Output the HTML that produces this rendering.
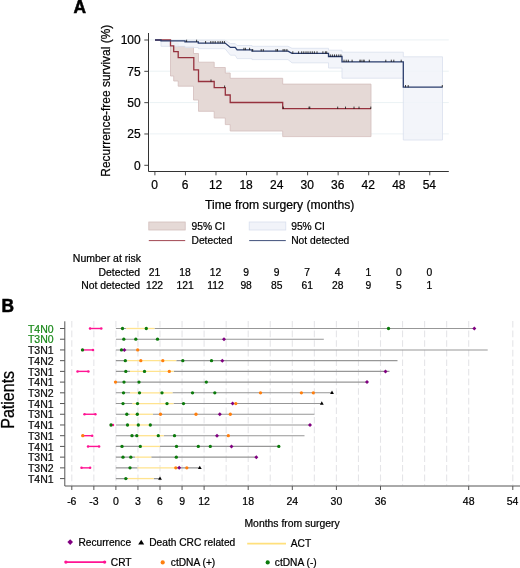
<!DOCTYPE html>
<html lang="en"><head><meta charset="utf-8"><title>Figure</title>
<style>html,body{margin:0;padding:0;background:#fff}body{width:520px;height:568px;overflow:hidden}svg{display:block}text{font-family:"Liberation Sans", Arial, Helvetica, sans-serif;stroke:#000;stroke-width:.22px}text.g{stroke:#1c8a1c}text.b{stroke-width:.55px}</style>
</head><body>
<svg width="520" height="568" viewBox="0 0 520 568" fill="#000">
<rect width="520" height="568" fill="#fff"/>
<g id="panelA">
<text class="b" transform="translate(73.6,12.8) scale(0.95,1)" font-size="18.3" font-weight="700" fill="#000">A</text>
<line x1="149.6" x2="448.8" y1="133.88" y2="133.88" stroke="#e6eff1" stroke-width="0.8"/>
<line x1="149.6" x2="448.8" y1="102.55" y2="102.55" stroke="#e6eff1" stroke-width="0.8"/>
<line x1="149.6" x2="448.8" y1="71.23" y2="71.23" stroke="#e6eff1" stroke-width="0.8"/>
<line x1="149.6" x2="448.8" y1="39.90" y2="39.90" stroke="#e6eff1" stroke-width="0.8"/>
<polygon points="170.5,40.0 170.5,41.0 173.7,41.0 173.7,43.2 178.2,43.2 178.2,46.5 193.5,46.5 193.5,53.5 198.5,53.5 198.5,62.2 214.2,62.2 214.2,67.5 225.3,67.5 225.3,73.0 230.2,73.0 230.2,78.3 282.7,78.3 282.7,84.1 371.0,84.1 371.0,136.6 282.7,136.6 282.7,131.0 230.2,131.0 230.2,124.6 225.3,124.6 225.3,118.0 214.2,118.0 214.2,111.3 198.5,111.3 198.5,100.0 193.5,100.0 193.5,86.2 178.2,86.2 178.2,81.0 173.7,81.0 173.7,76.0 170.5,76.0 170.5,40.0" fill="#e5d9d6" stroke="#d3bebc" stroke-width="0.8" stroke-linejoin="miter"/>
<polygon points="161.0,40.0 161.0,40.2 225.0,40.2 230.4,43.6 235.2,43.6 237.1,45.5 252.0,45.5 252.0,46.3 288.0,46.3 292.0,48.3 328.5,48.3 328.5,50.2 342.0,50.2 342.0,52.2 403.3,52.2 403.3,56.8 442.5,56.8 442.5,140.0 403.3,140.0 403.3,78.2 342.0,78.2 342.0,68.0 328.5,68.0 328.5,62.8 292.0,62.8 288.0,59.6 252.0,59.6 252.0,58.6 237.1,58.6 235.2,55.2 230.4,55.2 225.0,48.7 198.3,48.7 198.3,47.5 185.0,47.5 185.0,46.3 161.0,46.3 161.0,40.0" fill="#f1f3f9" fill-opacity="0.85" stroke="#d9dfee" stroke-width="0.8"/>
<polyline points="155.0,40.0 170.5,40.0 170.5,45.8 173.7,45.8 173.7,51.6 178.2,51.6 178.2,57.7 193.8,57.7 193.8,69.8 198.5,69.8 198.5,81.5 214.2,81.5 214.2,87.6 225.3,87.6 225.3,95.0 230.2,95.0 230.2,102.5 282.7,102.5 282.7,108.7 371.0,108.7" fill="none" stroke="#96323e" stroke-width="1.3" stroke-linejoin="miter"/>
<polyline points="155.0,40.0 161.0,40.0 161.0,40.8 185.0,40.8 185.0,41.8 198.3,41.8 198.3,43.1 225.1,43.1 230.4,47.4 235.2,47.4 237.1,49.9 252.0,49.9 252.0,51.1 288.0,51.1 292.0,53.4 328.5,53.4 328.5,56.5 342.0,56.5 342.0,61.8 403.3,61.8 403.3,87.1 442.5,87.1" fill="none" stroke="#2a3c6c" stroke-width="1.3" stroke-linejoin="miter"/>
<path d="M186.6,42.0v-2.3M196.6,42.0v-2.3M205.6,43.3v-2.3M210.8,43.3v-2.3M213.0,43.3v-2.3M215.2,43.3v-2.3M218.0,43.3v-2.3M220.2,43.3v-2.3M222.4,43.3v-2.3M224.4,43.3v-2.3M243.9,50.1v-2.3M245.4,50.1v-2.3M249.6,50.1v-2.3M252.7,51.3v-2.3M261.2,51.3v-2.3M263.3,51.3v-2.3M276.0,51.3v-2.3M277.5,51.3v-2.3M283.1,51.3v-2.3M284.8,51.3v-2.3M286.9,51.3v-2.3M292.8,53.6v-2.3M298.6,53.6v-2.3M301.7,53.6v-2.3M303.8,53.6v-2.3M306.0,53.6v-2.3M308.0,53.6v-2.3M310.2,53.6v-2.3M312.3,53.6v-2.3M314.4,53.6v-2.3M317.0,53.6v-2.3M322.9,53.6v-2.3M325.4,53.6v-2.3M326.7,53.6v-2.3M330.3,56.7v-2.3M332.4,56.7v-2.3M334.5,56.7v-2.3M336.6,56.7v-2.3M338.8,56.7v-2.3M340.9,56.7v-2.3M344.0,62.0v-2.3M346.2,62.0v-2.3M348.3,62.0v-2.3M352.1,62.0v-2.3M359.9,62.0v-2.3M363.1,62.0v-2.3M369.3,62.0v-2.3M361.0,62.0v-2.3M364.2,62.0v-2.3M385.8,62.0v-2.3M391.3,62.0v-2.3M393.8,62.0v-2.3M401.2,62.0v-2.3M405.5,87.3v-2.3M408.2,87.3v-2.3M442.3,87.3v-2.3M211.0,81.7v-2.3M224.6,87.8v-2.3M283.3,108.9v-2.3M309.0,108.9v-2.3M309.8,108.9v-2.3M337.7,108.9v-2.3M345.5,108.9v-2.3M354.0,108.9v-2.3M359.0,108.9v-2.3M370.8,108.9v-2.3" stroke="#111" stroke-width="0.8" fill="none"/>
<path d="M148.5,33V171.5H448.8" fill="none" stroke="#333" stroke-width="1"/>
<path d="M144.3,165.30H148.5M144.3,133.98H148.5M144.3,102.65H148.5M144.3,71.33H148.5M144.3,40.00H148.5M154.90,171.5V175.3M185.44,171.5V175.3M215.98,171.5V175.3M246.52,171.5V175.3M277.06,171.5V175.3M307.60,171.5V175.3M338.14,171.5V175.3M368.68,171.5V175.3M399.22,171.5V175.3M429.76,171.5V175.3" stroke="#333" stroke-width="0.9" fill="none"/>
<text x="140.7" y="169.60" font-size="12" text-anchor="end">0</text>
<text x="140.7" y="138.28" font-size="12" text-anchor="end">25</text>
<text x="140.7" y="106.95" font-size="12" text-anchor="end">50</text>
<text x="140.7" y="75.63" font-size="12" text-anchor="end">75</text>
<text x="140.7" y="44.30" font-size="12" text-anchor="end">100</text>
<text x="154.50" y="189.2" font-size="12" text-anchor="middle">0</text>
<text x="185.04" y="189.2" font-size="12" text-anchor="middle">6</text>
<text x="215.58" y="189.2" font-size="12" text-anchor="middle">12</text>
<text x="246.12" y="189.2" font-size="12" text-anchor="middle">18</text>
<text x="276.66" y="189.2" font-size="12" text-anchor="middle">24</text>
<text x="307.20" y="189.2" font-size="12" text-anchor="middle">30</text>
<text x="337.74" y="189.2" font-size="12" text-anchor="middle">36</text>
<text x="368.28" y="189.2" font-size="12" text-anchor="middle">42</text>
<text x="398.82" y="189.2" font-size="12" text-anchor="middle">48</text>
<text x="429.36" y="189.2" font-size="12" text-anchor="middle">54</text>
<text x="279.7" y="208.9" font-size="12.15" text-anchor="middle">Time from surgery (months)</text>
<text transform="translate(110.3,100.7) rotate(-90)" font-size="11.95" text-anchor="middle">Recurrence-free survival (%)</text>
<rect x="148.8" y="222" width="36.4" height="8" fill="#e5d9d6" stroke="#d3bebc" stroke-width="0.8"/>
<rect x="249.2" y="222" width="36.6" height="8" fill="#f1f3f9" stroke="#d9dfee" stroke-width="0.8"/>
<line x1="148.8" x2="185.2" y1="240.6" y2="240.6" stroke="#96323e" stroke-width="0.9"/>
<line x1="249.2" x2="285.8" y1="240.6" y2="240.6" stroke="#2a3c6c" stroke-width="0.9"/>
<text x="191.5" y="229.7" font-size="10.25">95% CI</text>
<text x="191.5" y="244.2" font-size="10.25">Detected</text>
<text x="291.2" y="229.7" font-size="10.25">95% CI</text>
<text x="291.2" y="244.2" font-size="10.25">Not detected</text>
<text x="72.8" y="261.6" font-size="10.5">Number at risk</text>
<text x="140.1" y="275.8" font-size="10.4" text-anchor="end">Detected</text>
<text x="140.1" y="289.2" font-size="10.4" text-anchor="end">Not detected</text>
<text x="154.50" y="275.8" font-size="10.3" text-anchor="middle">21</text>
<text x="154.50" y="289.2" font-size="10.3" text-anchor="middle">122</text>
<text x="185.04" y="275.8" font-size="10.3" text-anchor="middle">18</text>
<text x="185.04" y="289.2" font-size="10.3" text-anchor="middle">121</text>
<text x="215.58" y="275.8" font-size="10.3" text-anchor="middle">12</text>
<text x="215.58" y="289.2" font-size="10.3" text-anchor="middle">112</text>
<text x="246.12" y="275.8" font-size="10.3" text-anchor="middle">9</text>
<text x="246.12" y="289.2" font-size="10.3" text-anchor="middle">98</text>
<text x="276.66" y="275.8" font-size="10.3" text-anchor="middle">9</text>
<text x="276.66" y="289.2" font-size="10.3" text-anchor="middle">85</text>
<text x="307.20" y="275.8" font-size="10.3" text-anchor="middle">7</text>
<text x="307.20" y="289.2" font-size="10.3" text-anchor="middle">61</text>
<text x="337.74" y="275.8" font-size="10.3" text-anchor="middle">4</text>
<text x="337.74" y="289.2" font-size="10.3" text-anchor="middle">28</text>
<text x="368.28" y="275.8" font-size="10.3" text-anchor="middle">1</text>
<text x="368.28" y="289.2" font-size="10.3" text-anchor="middle">9</text>
<text x="398.82" y="275.8" font-size="10.3" text-anchor="middle">0</text>
<text x="398.82" y="289.2" font-size="10.3" text-anchor="middle">5</text>
<text x="429.36" y="275.8" font-size="10.3" text-anchor="middle">0</text>
<text x="429.36" y="289.2" font-size="10.3" text-anchor="middle">1</text>
</g>
<g id="panelB">
<text class="b" transform="translate(1.4,311.7) scale(0.95,1)" font-size="18.3" font-weight="700" fill="#000">B</text>
<path d="M71.80,321V485.5M93.85,321V485.5M115.90,321V485.5M137.95,321V485.5M160.00,321V485.5M182.05,321V485.5M204.10,321V485.5M226.15,321V485.5M248.20,321V485.5M270.25,321V485.5M292.30,321V485.5M314.35,321V485.5M336.40,321V485.5M358.45,321V485.5M380.50,321V485.5M402.55,321V485.5M424.60,321V485.5M446.65,321V485.5M468.70,321V485.5M512.80,321V485.5" stroke="#e5e5e8" stroke-width="1.1" stroke-dasharray="6.6 3" fill="none"/>
<text class="g" x="53.6" y="332.70" font-size="10.5" text-anchor="end" fill="#1c8a1c">T4N0</text>
<path d="M115.9,328.50H126.3M154.5,328.50H474.3" stroke="#979797" stroke-width="1.1" fill="none"/>
<line x1="126.3" x2="154.5" y1="328.50" y2="328.50" stroke="#ffe38e" stroke-width="1.3"/>
<line x1="90.0" x2="101.3" y1="328.50" y2="328.50" stroke="#ff1493" stroke-width="1.4"/>
<circle cx="90.0" cy="328.50" r="1.25" fill="#ff1493"/>
<circle cx="101.3" cy="328.50" r="1.25" fill="#ff1493"/>
<circle cx="122.5" cy="328.50" r="1.65" fill="#0b7a0b"/>
<circle cx="146.3" cy="328.50" r="1.65" fill="#0b7a0b"/>
<circle cx="388.5" cy="328.50" r="1.65" fill="#0b7a0b"/>
<path d="M474.3,326.50l2,2l-2,2l-2,-2z" fill="#800080"/>
<text class="g" x="53.6" y="343.42" font-size="10.5" text-anchor="end" fill="#1c8a1c">T3N0</text>
<line x1="115.9" x2="323.8" y1="339.22" y2="339.22" stroke="#979797" stroke-width="1.1"/>
<circle cx="123.8" cy="339.22" r="1.65" fill="#0b7a0b"/>
<circle cx="135.8" cy="339.22" r="1.65" fill="#0b7a0b"/>
<circle cx="157.5" cy="339.22" r="1.65" fill="#0b7a0b"/>
<path d="M224.0,337.22l2,2l-2,2l-2,-2z" fill="#800080"/>
<text x="53.6" y="354.14" font-size="10.5" text-anchor="end" fill="#111">T3N1</text>
<line x1="115.9" x2="487.7" y1="349.94" y2="349.94" stroke="#979797" stroke-width="1.1"/>
<line x1="82.5" x2="93.0" y1="349.94" y2="349.94" stroke="#ff1493" stroke-width="1.4"/>
<circle cx="82.5" cy="349.94" r="1.25" fill="#ff1493"/>
<circle cx="93.0" cy="349.94" r="1.25" fill="#ff1493"/>
<circle cx="82.5" cy="349.94" r="1.65" fill="#0b7a0b"/>
<circle cx="121.5" cy="349.94" r="1.65" fill="#0b7a0b"/>
<path d="M124.4,347.94l2,2l-2,2l-2,-2z" fill="#800080"/>
<circle cx="137.7" cy="349.94" r="1.65" fill="#ff7f0e"/>
<text x="53.6" y="364.86" font-size="10.5" text-anchor="end" fill="#111">T4N2</text>
<path d="M115.9,360.66H127.5M176.3,360.66H397.5" stroke="#979797" stroke-width="1.1" fill="none"/>
<line x1="127.5" x2="176.3" y1="360.66" y2="360.66" stroke="#ffe38e" stroke-width="1.3"/>
<circle cx="125.3" cy="360.66" r="1.65" fill="#0b7a0b"/>
<circle cx="140.8" cy="360.66" r="1.65" fill="#ff7f0e"/>
<circle cx="162.8" cy="360.66" r="1.65" fill="#ff7f0e"/>
<circle cx="182.8" cy="360.66" r="1.65" fill="#0b7a0b"/>
<circle cx="211.5" cy="360.66" r="1.65" fill="#0b7a0b"/>
<path d="M222.3,358.66l2,2l-2,2l-2,-2z" fill="#800080"/>
<text x="53.6" y="375.58" font-size="10.5" text-anchor="end" fill="#111">T3N1</text>
<path d="M115.9,371.38H130.0M173.8,371.38H389.5" stroke="#979797" stroke-width="1.1" fill="none"/>
<line x1="130.0" x2="173.8" y1="371.38" y2="371.38" stroke="#ffe38e" stroke-width="1.3"/>
<line x1="77.5" x2="88.4" y1="371.38" y2="371.38" stroke="#ff1493" stroke-width="1.4"/>
<circle cx="77.5" cy="371.38" r="1.25" fill="#ff1493"/>
<circle cx="88.4" cy="371.38" r="1.25" fill="#ff1493"/>
<circle cx="125.8" cy="371.38" r="1.65" fill="#0b7a0b"/>
<circle cx="144.5" cy="371.38" r="1.65" fill="#0b7a0b"/>
<circle cx="169.3" cy="371.38" r="1.65" fill="#ff7f0e"/>
<path d="M385.5,369.38l2,2l-2,2l-2,-2z" fill="#800080"/>
<text x="53.6" y="386.30" font-size="10.5" text-anchor="end" fill="#111">T4N1</text>
<line x1="115.9" x2="367.5" y1="382.10" y2="382.10" stroke="#979797" stroke-width="1.1"/>
<circle cx="115.5" cy="382.10" r="1.65" fill="#ff7f0e"/>
<circle cx="124.0" cy="382.10" r="1.65" fill="#0b7a0b"/>
<circle cx="139.0" cy="382.10" r="1.65" fill="#0b7a0b"/>
<circle cx="206.3" cy="382.10" r="1.65" fill="#0b7a0b"/>
<path d="M367.0,380.10l2,2l-2,2l-2,-2z" fill="#800080"/>
<text x="53.6" y="397.02" font-size="10.5" text-anchor="end" fill="#111">T3N2</text>
<path d="M115.9,392.82H130.0M172.5,392.82H332.0" stroke="#979797" stroke-width="1.1" fill="none"/>
<line x1="130.0" x2="172.5" y1="392.82" y2="392.82" stroke="#ffe38e" stroke-width="1.3"/>
<circle cx="123.5" cy="392.82" r="1.65" fill="#0b7a0b"/>
<circle cx="139.5" cy="392.82" r="1.65" fill="#0b7a0b"/>
<circle cx="162.0" cy="392.82" r="1.65" fill="#0b7a0b"/>
<circle cx="192.5" cy="392.82" r="1.65" fill="#0b7a0b"/>
<circle cx="214.8" cy="392.82" r="1.65" fill="#0b7a0b"/>
<circle cx="260.5" cy="392.82" r="1.65" fill="#ff7f0e"/>
<circle cx="301.4" cy="392.82" r="1.65" fill="#ff7f0e"/>
<circle cx="313.3" cy="392.82" r="1.65" fill="#ff7f0e"/>
<path d="M332.0,390.62l1.9,3.3h-3.8z" fill="#000"/>
<text x="53.6" y="407.74" font-size="10.5" text-anchor="end" fill="#111">T4N1</text>
<path d="M115.9,403.54H132.5M173.5,403.54H321.8" stroke="#979797" stroke-width="1.1" fill="none"/>
<line x1="132.5" x2="173.5" y1="403.54" y2="403.54" stroke="#ffe38e" stroke-width="1.3"/>
<circle cx="123.0" cy="403.54" r="1.65" fill="#0b7a0b"/>
<circle cx="137.5" cy="403.54" r="1.65" fill="#0b7a0b"/>
<circle cx="167.0" cy="403.54" r="1.65" fill="#0b7a0b"/>
<circle cx="183.5" cy="403.54" r="1.65" fill="#0b7a0b"/>
<path d="M232.6,401.54l2,2l-2,2l-2,-2z" fill="#800080"/>
<circle cx="235.8" cy="403.54" r="1.65" fill="#ff7f0e"/>
<path d="M321.8,401.34l1.9,3.3h-3.8z" fill="#000"/>
<text x="53.6" y="418.46" font-size="10.5" text-anchor="end" fill="#111">T3N1</text>
<path d="M115.9,414.26H130.0M153.0,414.26H314.5" stroke="#979797" stroke-width="1.1" fill="none"/>
<line x1="130.0" x2="153.0" y1="414.26" y2="414.26" stroke="#ffe38e" stroke-width="1.3"/>
<line x1="84.5" x2="95.4" y1="414.26" y2="414.26" stroke="#ff1493" stroke-width="1.4"/>
<circle cx="84.5" cy="414.26" r="1.25" fill="#ff1493"/>
<circle cx="95.4" cy="414.26" r="1.25" fill="#ff1493"/>
<circle cx="126.8" cy="414.26" r="1.65" fill="#0b7a0b"/>
<circle cx="137.3" cy="414.26" r="1.65" fill="#0b7a0b"/>
<circle cx="160.5" cy="414.26" r="1.65" fill="#ff7f0e"/>
<circle cx="196.0" cy="414.26" r="1.65" fill="#ff7f0e"/>
<path d="M219.8,412.26l2,2l-2,2l-2,-2z" fill="#800080"/>
<circle cx="230.3" cy="414.26" r="1.65" fill="#ff7f0e"/>
<text x="53.6" y="429.18" font-size="10.5" text-anchor="end" fill="#111">T4N1</text>
<path d="M115.9,424.98H128.8M150.0,424.98H310.0" stroke="#979797" stroke-width="1.1" fill="none"/>
<line x1="128.8" x2="150.0" y1="424.98" y2="424.98" stroke="#ffe38e" stroke-width="1.3"/>
<line x1="111.0" x2="113.0" y1="424.98" y2="424.98" stroke="#ff1493" stroke-width="1.4"/>
<circle cx="111.0" cy="424.98" r="1.25" fill="#ff1493"/>
<circle cx="113.0" cy="424.98" r="1.25" fill="#ff1493"/>
<circle cx="111.0" cy="424.98" r="1.65" fill="#0b7a0b"/>
<circle cx="127.5" cy="424.98" r="1.65" fill="#0b7a0b"/>
<circle cx="138.3" cy="424.98" r="1.65" fill="#0b7a0b"/>
<circle cx="150.3" cy="424.98" r="1.65" fill="#0b7a0b"/>
<path d="M310.0,422.98l2,2l-2,2l-2,-2z" fill="#800080"/>
<text x="53.6" y="439.90" font-size="10.5" text-anchor="end" fill="#111">T3N1</text>
<path d="M115.9,435.70H137.5M163.8,435.70H304.5" stroke="#979797" stroke-width="1.1" fill="none"/>
<line x1="137.5" x2="163.8" y1="435.70" y2="435.70" stroke="#ffe38e" stroke-width="1.3"/>
<line x1="82.8" x2="92.2" y1="435.70" y2="435.70" stroke="#ff1493" stroke-width="1.4"/>
<circle cx="82.8" cy="435.70" r="1.25" fill="#ff1493"/>
<circle cx="92.2" cy="435.70" r="1.25" fill="#ff1493"/>
<circle cx="82.8" cy="435.70" r="1.65" fill="#ff7f0e"/>
<circle cx="132.0" cy="435.70" r="1.65" fill="#0b7a0b"/>
<circle cx="136.8" cy="435.70" r="1.65" fill="#0b7a0b"/>
<circle cx="158.3" cy="435.70" r="1.65" fill="#0b7a0b"/>
<circle cx="174.5" cy="435.70" r="1.65" fill="#0b7a0b"/>
<path d="M217.0,433.70l2,2l-2,2l-2,-2z" fill="#800080"/>
<circle cx="228.3" cy="435.70" r="1.65" fill="#ff7f0e"/>
<text x="53.6" y="450.62" font-size="10.5" text-anchor="end" fill="#111">T4N1</text>
<path d="M115.9,446.42H141.3M160.0,446.42H278.8" stroke="#979797" stroke-width="1.1" fill="none"/>
<line x1="141.3" x2="160.0" y1="446.42" y2="446.42" stroke="#ffe38e" stroke-width="1.3"/>
<line x1="88.0" x2="99.1" y1="446.42" y2="446.42" stroke="#ff1493" stroke-width="1.4"/>
<circle cx="88.0" cy="446.42" r="1.25" fill="#ff1493"/>
<circle cx="99.1" cy="446.42" r="1.25" fill="#ff1493"/>
<circle cx="122.0" cy="446.42" r="1.65" fill="#0b7a0b"/>
<circle cx="140.3" cy="446.42" r="1.65" fill="#0b7a0b"/>
<circle cx="176.5" cy="446.42" r="1.65" fill="#0b7a0b"/>
<circle cx="198.3" cy="446.42" r="1.65" fill="#0b7a0b"/>
<circle cx="210.3" cy="446.42" r="1.65" fill="#0b7a0b"/>
<path d="M231.5,444.42l2,2l-2,2l-2,-2z" fill="#800080"/>
<circle cx="278.8" cy="446.42" r="1.65" fill="#0b7a0b"/>
<text x="53.6" y="461.34" font-size="10.5" text-anchor="end" fill="#111">T3N1</text>
<path d="M115.9,457.14H135.0M151.3,457.14H256.3" stroke="#979797" stroke-width="1.1" fill="none"/>
<line x1="135.0" x2="151.3" y1="457.14" y2="457.14" stroke="#ffe38e" stroke-width="1.3"/>
<circle cx="123.0" cy="457.14" r="1.65" fill="#0b7a0b"/>
<circle cx="130.8" cy="457.14" r="1.65" fill="#0b7a0b"/>
<circle cx="176.3" cy="457.14" r="1.65" fill="#0b7a0b"/>
<path d="M256.3,455.14l2,2l-2,2l-2,-2z" fill="#800080"/>
<text x="53.6" y="472.06" font-size="10.5" text-anchor="end" fill="#111">T3N2</text>
<path d="M115.9,467.86H137.5M175.0,467.86H199.8" stroke="#979797" stroke-width="1.1" fill="none"/>
<line x1="137.5" x2="175.0" y1="467.86" y2="467.86" stroke="#ffe38e" stroke-width="1.3"/>
<line x1="81.5" x2="90.1" y1="467.86" y2="467.86" stroke="#ff1493" stroke-width="1.4"/>
<circle cx="81.5" cy="467.86" r="1.25" fill="#ff1493"/>
<circle cx="90.1" cy="467.86" r="1.25" fill="#ff1493"/>
<circle cx="130.0" cy="467.86" r="1.65" fill="#0b7a0b"/>
<circle cx="175.8" cy="467.86" r="1.65" fill="#ff7f0e"/>
<path d="M179.2,465.86l2,2l-2,2l-2,-2z" fill="#800080"/>
<circle cx="186.8" cy="467.86" r="1.65" fill="#ff7f0e"/>
<path d="M199.8,465.66l1.9,3.3h-3.8z" fill="#000"/>
<text x="53.6" y="482.78" font-size="10.5" text-anchor="end" fill="#111">T4N1</text>
<path d="M115.9,478.58H128.0M153.8,478.58H160.0" stroke="#979797" stroke-width="1.1" fill="none"/>
<line x1="128.0" x2="153.8" y1="478.58" y2="478.58" stroke="#ffe38e" stroke-width="1.3"/>
<circle cx="125.8" cy="478.58" r="1.65" fill="#0b7a0b"/>
<path d="M160.0,476.38l1.9,3.3h-3.8z" fill="#000"/>
<path d="M64.8,321.3V486H520" fill="none" stroke="#555" stroke-width="1"/>
<path d="M60,328.50H64.8M60,339.22H64.8M60,349.94H64.8M60,360.66H64.8M60,371.38H64.8M60,382.10H64.8M60,392.82H64.8M60,403.54H64.8M60,414.26H64.8M60,424.98H64.8M60,435.70H64.8M60,446.42H64.8M60,457.14H64.8M60,467.86H64.8M60,478.58H64.8M71.80,486V490M93.85,486V490M115.90,486V490M137.95,486V490M160.00,486V490M182.05,486V490M204.10,486V490M248.20,486V490M292.30,486V490M336.40,486V490M380.50,486V490M468.70,486V490M512.80,486V490" stroke="#555" stroke-width="1" fill="none"/>
<text x="71.80" y="504.8" font-size="10.5" text-anchor="middle">-6</text>
<text x="93.85" y="504.8" font-size="10.5" text-anchor="middle">-3</text>
<text x="115.90" y="504.8" font-size="10.5" text-anchor="middle">0</text>
<text x="137.95" y="504.8" font-size="10.5" text-anchor="middle">3</text>
<text x="160.00" y="504.8" font-size="10.5" text-anchor="middle">6</text>
<text x="182.05" y="504.8" font-size="10.5" text-anchor="middle">9</text>
<text x="204.10" y="504.8" font-size="10.5" text-anchor="middle">12</text>
<text x="248.20" y="504.8" font-size="10.5" text-anchor="middle">18</text>
<text x="292.30" y="504.8" font-size="10.5" text-anchor="middle">24</text>
<text x="336.40" y="504.8" font-size="10.5" text-anchor="middle">30</text>
<text x="380.50" y="504.8" font-size="10.5" text-anchor="middle">36</text>
<text x="468.70" y="504.8" font-size="10.5" text-anchor="middle">48</text>
<text x="512.50" y="504.8" font-size="10.5" text-anchor="middle">54</text>
<text x="292.1" y="527" font-size="10.4" text-anchor="middle">Months from surgery</text>
<text transform="translate(14.1,399.8) rotate(-90) scale(1,1.13)" font-size="16" text-anchor="middle">Patients</text>
<path d="M70.2,539.3l2.8,2.8l-2.8,2.8l-2.8,-2.8z" fill="#800080"/>
<text x="78.4" y="546.4" font-size="10.2">Recurrence</text>
<path d="M141.2,539.8l3,4.7h-6z" fill="#000"/>
<text x="149.2" y="546.4" font-size="10.2">Death CRC related</text>
<line x1="247.2" x2="286" y1="543.6" y2="543.6" stroke="#ffe07c" stroke-width="1.6"/>
<text x="290.8" y="546.5" font-size="10.2">ACT</text>
<line x1="65.8" x2="104.7" y1="562.1" y2="562.1" stroke="#ff1493" stroke-width="1.6"/>
<circle cx="65.9" cy="562.1" r="1.7" fill="#ff1493"/><circle cx="104.6" cy="562.1" r="1.7" fill="#ff1493"/>
<text x="110.8" y="565.8" font-size="10.2">CRT</text>
<circle cx="162.7" cy="562.4" r="2.1" fill="#ff7f0e"/>
<text x="170.8" y="565.8" font-size="10.2">ctDNA (+)</text>
<circle cx="267.7" cy="562.4" r="2.1" fill="#0b7a0b"/>
<text x="274.8" y="565.8" font-size="10.2">ctDNA (-)</text>
</g>
</svg></body></html>
